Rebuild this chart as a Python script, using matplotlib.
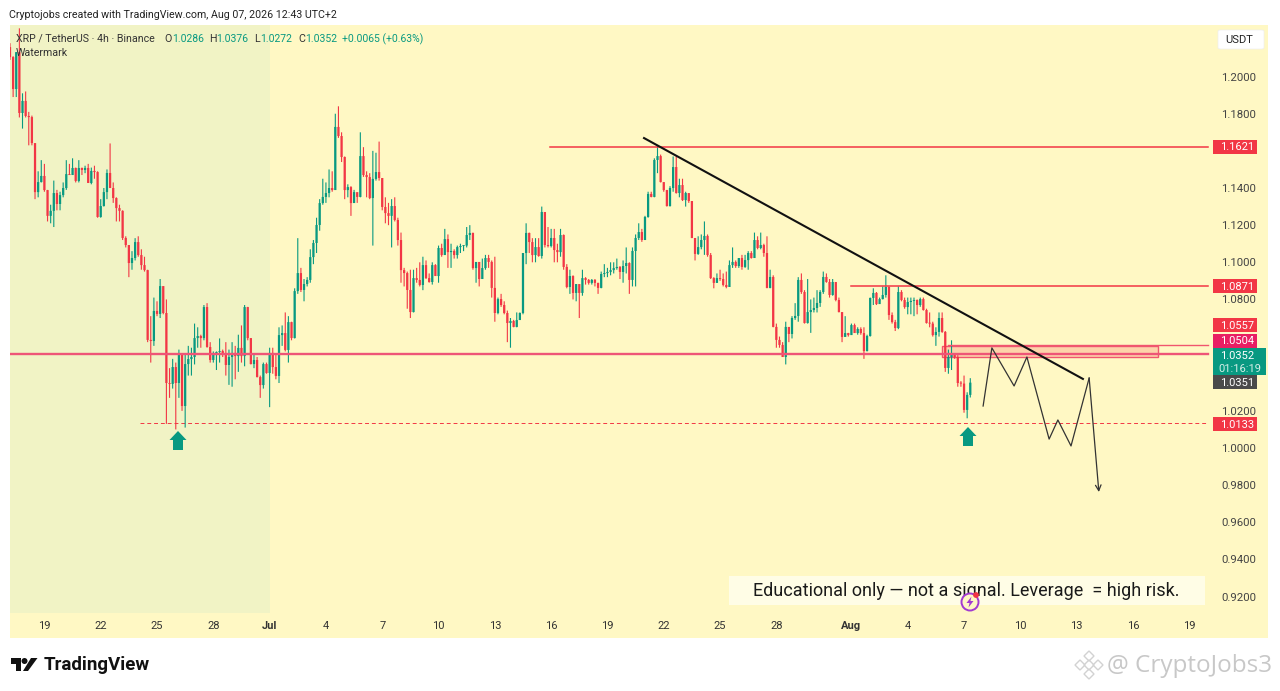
#!/usr/bin/env python
"""XRP / USDT 4h candle chart with hand drawn levels, trendline and projection."""
import matplotlib
matplotlib.use("agg")
import matplotlib.pyplot as plt
from matplotlib.patches import Ellipse, FancyBboxPatch, Polygon, Rectangle

plt.rcParams["font.family"] = ["Roboto", "DejaVu Sans"]

W, H = 1280, 691
UP, DOWN, PINK = "#089981", "#f23645", "#e91e63"
YELLOW, SHADE = "#fff8c4", "#f1f3c5"

first_open = 1.2159
closes = [
    1.2105, 1.1933, 1.2132, 1.1804, 1.1869, 1.1788, 1.1782, 1.1642, 1.1378, 1.1432,
    1.1465, 1.1389, 1.1250, 1.1277, 1.1373, 1.1314, 1.1362, 1.1400, 1.1475, 1.1470,
    1.1508, 1.1438, 1.1508, 1.1497, 1.1508, 1.1427, 1.1492, 1.1486, 1.1244, 1.1303,
    1.1378, 1.1481, 1.1400, 1.1346, 1.1292, 1.1277, 1.1131, 1.1093, 1.0996, 1.1023,
    1.1109, 1.1039, 1.0985, 1.0958, 1.0582, 1.0576, 1.0738, 1.0722, 1.0872, 1.0727,
    1.0350, 1.0345, 1.0436, 1.0350, 1.0506, 1.0226, 1.0452, 1.0479, 1.0490, 1.0592,
    1.0603, 1.0592, 1.0759, 1.0544, 1.0474, 1.0501, 1.0517, 1.0522, 1.0501, 1.0447,
    1.0490, 1.0512, 1.0495, 1.0539, 1.0495, 1.0759, 1.0592, 1.0452, 1.0474, 1.0382,
    1.0339, 1.0452, 1.0404, 1.0512, 1.0436, 1.0388, 1.0608, 1.0619, 1.0528, 1.0678,
    1.0592, 1.0845, 1.0942, 1.0851, 1.0883, 1.0905, 1.1028, 1.1104, 1.1201, 1.1319,
    1.1352, 1.1373, 1.1400, 1.1389, 1.1729, 1.1680, 1.1567, 1.1389, 1.1405, 1.1319,
    1.1378, 1.1352, 1.1572, 1.1470, 1.1459, 1.1346, 1.1449, 1.1486, 1.1454, 1.1298,
    1.1265, 1.1250, 1.1303, 1.1228, 1.1120, 1.0958, 1.0942, 1.0851, 1.0732, 1.0915,
    1.0905, 1.0878, 1.0985, 1.0915, 1.0894, 1.0985, 1.0926, 1.1077, 1.1039, 1.1125,
    1.1055, 1.1061, 1.1039, 1.1082, 1.1088, 1.1090, 1.1147, 1.1158, 1.0969, 1.1002,
    1.0910, 1.0969, 1.1023, 1.1002, 1.0862, 1.0727, 1.0802, 1.0770, 1.0727, 1.0673,
    1.0684, 1.0652, 1.0689, 1.0727, 1.1050, 1.1158, 1.1109, 1.1039, 1.1082, 1.1034,
    1.1271, 1.1093, 1.1088, 1.1131, 1.1066, 1.1055, 1.1147, 1.0975, 1.0867, 1.0926,
    1.0835, 1.0883, 1.0835, 1.0915, 1.0905, 1.0889, 1.0905, 1.0889, 1.0862, 1.0937,
    1.0942, 1.0948, 1.0958, 1.0969, 1.0975, 1.0948, 1.0980, 1.0996, 1.0905, 1.1061,
    1.1131, 1.1163, 1.1120, 1.1244, 1.1368, 1.1352, 1.1551, 1.1572, 1.1432, 1.1389,
    1.1303, 1.1400, 1.1513, 1.1373, 1.1416, 1.1335, 1.1373, 1.1330, 1.1131, 1.1045,
    1.1082, 1.1120, 1.1142, 1.1039, 1.0915, 1.0889, 1.0915, 1.0910, 1.0878, 1.0867,
    1.0985, 1.1002, 1.0980, 1.1023, 1.0975, 1.1012, 1.1050, 1.1023, 1.1120, 1.1077,
    1.1093, 1.1050, 1.0862, 1.0921, 1.0652, 1.0582, 1.0555, 1.0490, 1.0652, 1.0614,
    1.0700, 1.0711, 1.0905, 1.0840, 1.0673, 1.0732, 1.0743, 1.0754, 1.0781, 1.0840,
    1.0921, 1.0894, 1.0824, 1.0894, 1.0797, 1.0732, 1.0598, 1.0619, 1.0608, 1.0662,
    1.0619, 1.0641, 1.0619, 1.0522, 1.0603, 1.0808, 1.0835, 1.0775, 1.0802, 1.0824,
    1.0867, 1.0716, 1.0678, 1.0646, 1.0840, 1.0797, 1.0759, 1.0786, 1.0792, 1.0797,
    1.0770, 1.0802, 1.0743, 1.0673, 1.0670, 1.0608, 1.0625, 1.0700, 1.0625, 1.0431,
    1.0490, 1.0501, 1.0490, 1.0350, 1.0347, 1.0205, 1.0286, 1.0352,
]
highs = [
    1.218, 1.211, 1.213, 1.226, 1.191, 1.192, 1.181, 1.179, 1.164, 1.149,
    1.155, 1.153, 1.139, 1.131, 1.144, 1.139, 1.138, 1.143, 1.155, 1.153,
    1.156, 1.151, 1.155, 1.151, 1.152, 1.153, 1.151, 1.152, 1.149, 1.134,
    1.140, 1.150, 1.164, 1.143, 1.135, 1.131, 1.128, 1.114, 1.109, 1.106,
    1.113, 1.114, 1.107, 1.103, 1.096, 1.071, 1.081, 1.079, 1.091, 1.087,
    1.080, 1.043, 1.048, 1.046, 1.053, 1.051, 1.051, 1.055, 1.054, 1.067,
    1.065, 1.061, 1.077, 1.078, 1.057, 1.052, 1.052, 1.059, 1.053, 1.057,
    1.053, 1.057, 1.055, 1.061, 1.066, 1.077, 1.076, 1.059, 1.051, 1.049,
    1.039, 1.046, 1.046, 1.054, 1.054, 1.051, 1.065, 1.066, 1.073, 1.071,
    1.068, 1.086, 1.113, 1.097, 1.091, 1.092, 1.107, 1.112, 1.124, 1.134,
    1.145, 1.143, 1.150, 1.149, 1.180, 1.184, 1.170, 1.157, 1.142, 1.141,
    1.139, 1.137, 1.170, 1.162, 1.149, 1.148, 1.160, 1.159, 1.165, 1.145,
    1.135, 1.132, 1.134, 1.135, 1.124, 1.116, 1.097, 1.095, 1.096, 1.096,
    1.097, 1.100, 1.103, 1.101, 1.094, 1.100, 1.099, 1.109, 1.110, 1.118,
    1.115, 1.110, 1.107, 1.109, 1.110, 1.109, 1.119, 1.120, 1.116, 1.100,
    1.100, 1.102, 1.104, 1.104, 1.101, 1.103, 1.081, 1.083, 1.079, 1.074,
    1.070, 1.069, 1.073, 1.073, 1.105, 1.121, 1.116, 1.113, 1.113, 1.113,
    1.130, 1.127, 1.119, 1.118, 1.118, 1.110, 1.118, 1.115, 1.099, 1.096,
    1.093, 1.088, 1.086, 1.096, 1.092, 1.091, 1.091, 1.091, 1.089, 1.095,
    1.099, 1.097, 1.100, 1.100, 1.102, 1.098, 1.101, 1.108, 1.100, 1.108,
    1.115, 1.121, 1.118, 1.125, 1.138, 1.138, 1.156, 1.163, 1.158, 1.143,
    1.139, 1.141, 1.157, 1.157, 1.145, 1.145, 1.138, 1.137, 1.133, 1.113,
    1.114, 1.115, 1.122, 1.115, 1.105, 1.092, 1.094, 1.096, 1.094, 1.095,
    1.101, 1.108, 1.101, 1.102, 1.104, 1.104, 1.106, 1.106, 1.116, 1.114,
    1.116, 1.110, 1.114, 1.096, 1.093, 1.067, 1.060, 1.057, 1.068, 1.065,
    1.071, 1.078, 1.092, 1.094, 1.085, 1.091, 1.080, 1.081, 1.085, 1.085,
    1.095, 1.094, 1.091, 1.091, 1.089, 1.081, 1.073, 1.071, 1.062, 1.067,
    1.067, 1.065, 1.065, 1.065, 1.061, 1.081, 1.086, 1.084, 1.081, 1.087,
    1.093, 1.087, 1.073, 1.069, 1.087, 1.085, 1.081, 1.081, 1.081, 1.081,
    1.080, 1.081, 1.081, 1.075, 1.073, 1.068, 1.065, 1.073, 1.073, 1.063,
    1.053, 1.058, 1.050, 1.050, 1.036, 1.039, 1.030, 1.0376,
]
lows = [
    1.209, 1.189, 1.189, 1.178, 1.172, 1.178, 1.163, 1.163, 1.134, 1.135,
    1.143, 1.138, 1.122, 1.121, 1.119, 1.128, 1.128, 1.135, 1.139, 1.147,
    1.147, 1.143, 1.143, 1.147, 1.148, 1.143, 1.142, 1.145, 1.124, 1.124,
    1.130, 1.134, 1.140, 1.132, 1.122, 1.122, 1.112, 1.108, 1.092, 1.096,
    1.101, 1.103, 1.096, 1.095, 1.057, 1.046, 1.055, 1.071, 1.070, 1.072,
    1.013, 1.027, 1.032, 1.010, 1.027, 1.020, 1.011, 1.039, 1.039, 1.045,
    1.054, 1.054, 1.058, 1.054, 1.046, 1.046, 1.042, 1.046, 1.049, 1.039,
    1.034, 1.033, 1.037, 1.041, 1.046, 1.044, 1.058, 1.045, 1.043, 1.038,
    1.027, 1.032, 1.040, 1.022, 1.040, 1.037, 1.035, 1.055, 1.052, 1.046,
    1.058, 1.059, 1.083, 1.084, 1.079, 1.087, 1.089, 1.099, 1.105, 1.117,
    1.131, 1.132, 1.135, 1.138, 1.139, 1.167, 1.154, 1.134, 1.135, 1.125,
    1.132, 1.132, 1.135, 1.146, 1.135, 1.134, 1.109, 1.144, 1.144, 1.128,
    1.121, 1.120, 1.108, 1.122, 1.109, 1.089, 1.087, 1.075, 1.070, 1.073,
    1.089, 1.087, 1.085, 1.091, 1.089, 1.088, 1.093, 1.089, 1.103, 1.104,
    1.097, 1.097, 1.102, 1.102, 1.105, 1.106, 1.108, 1.112, 1.096, 1.089,
    1.087, 1.091, 1.096, 1.097, 1.081, 1.068, 1.072, 1.076, 1.072, 1.057,
    1.054, 1.065, 1.065, 1.069, 1.072, 1.099, 1.105, 1.100, 1.100, 1.103,
    1.102, 1.108, 1.108, 1.108, 1.100, 1.100, 1.103, 1.096, 1.086, 1.083,
    1.080, 1.079, 1.070, 1.082, 1.088, 1.088, 1.088, 1.087, 1.083, 1.086,
    1.092, 1.092, 1.093, 1.094, 1.096, 1.091, 1.089, 1.094, 1.083, 1.087,
    1.087, 1.112, 1.111, 1.112, 1.124, 1.135, 1.135, 1.148, 1.143, 1.138,
    1.130, 1.130, 1.138, 1.137, 1.135, 1.133, 1.130, 1.132, 1.113, 1.101,
    1.104, 1.107, 1.104, 1.103, 1.091, 1.086, 1.089, 1.090, 1.087, 1.086,
    1.089, 1.097, 1.097, 1.097, 1.096, 1.097, 1.096, 1.102, 1.104, 1.107,
    1.107, 1.103, 1.086, 1.086, 1.065, 1.054, 1.054, 1.049, 1.045, 1.057,
    1.059, 1.069, 1.068, 1.083, 1.067, 1.067, 1.062, 1.073, 1.073, 1.076,
    1.083, 1.089, 1.081, 1.082, 1.079, 1.073, 1.057, 1.060, 1.060, 1.061,
    1.062, 1.061, 1.061, 1.048, 1.052, 1.060, 1.077, 1.077, 1.079, 1.080,
    1.081, 1.069, 1.067, 1.063, 1.064, 1.079, 1.075, 1.072, 1.072, 1.071,
    1.072, 1.076, 1.074, 1.067, 1.065, 1.060, 1.055, 1.060, 1.062, 1.041,
    1.040, 1.042, 1.048, 1.033, 1.033, 1.019, 1.016, 1.0272,
]
opens = [first_open] + closes[:-1]

# x axis: bar number of each labelled day, 6 bars a day
day_offsets = [0, 3, 6, 9, 12, 15, 18, 21, 24, 27, 30, 33, 36, 39, 43, 46, 49, 52, 55, 58, 61]
day_labels = ["19", "22", "25", "28", "Jul", "4", "7", "10", "13", "16", "19",
              "22", "25", "28", "Aug", "4", "7", "10", "13", "16", "19"]
first_day_bar = 11
price_ticks = [1.20, 1.18, 1.14, 1.12, 1.10, 1.08, 1.02, 1.00, 0.98, 0.96, 0.94, 0.92]

# drawn objects
level_high, level_mid, level_zone_top, level_zone_line, level_low = 1.1621, 1.0871, 1.0557, 1.0504, 1.0133
zone_bars, zone_prices = (298.0, 367.0), (1.0490, 1.0550)
trend_bars, trend_prices = [202.7, 343.0], [1.1669, 1.0372]
path_bars = [311.1, 313.9, 321.0, 325.1, 332.2, 335.0, 339.2, 345.0, 348.1]
path_prices = [1.0226, 1.0539, 1.0334, 1.0490, 1.0048, 1.0151, 1.0011, 1.0377, 0.9763]


def px(x, y):
    return x / W, 1 - y / H


def rect(x0, y0, x1, y1, **kw):
    fig.add_artist(Rectangle(px(x0, y1), (x1 - x0) / W, (y1 - y0) / H,
                             transform=fig.transFigure, **kw))


def poly(pts, **kw):
    fig.add_artist(Polygon([px(*p) for p in pts], closed=True, transform=fig.transFigure, **kw))


def disc(x, y, r, **kw):
    fig.add_artist(Ellipse(px(x, y), 2 * r / W, 2 * r / H, transform=fig.transFigure, **kw))


def label(x, y, s, **kw):
    # matplotlib centres slightly high for this font
    fig.text(*px(x, y + 0.8), s, va="center", **kw)


def flag(y, text, color, x1=1257, h=14):
    rect(1213, y - h / 2, x1, y + h / 2, color=color, lw=0, zorder=6)
    label(1237, y, text, color="white", fontsize=8, ha="center", zorder=7)


def up_arrow(x, tip):
    pts = [(x, tip), (x + 8.5, tip + 9), (x + 5, tip + 9), (x + 5, tip + 19),
           (x - 5, tip + 19), (x - 5, tip + 9), (x - 8.5, tip + 9)]
    poly(pts, color=UP, lw=0, zorder=5)


fig = plt.figure(figsize=(W / 100, H / 100), dpi=100, facecolor="white")
rect(10, 25, 1268, 638, color=YELLOW, lw=0, zorder=0)
rect(10, 25, 270, 613, color=SHADE, lw=0, zorder=0)

ax = fig.add_axes([10 / W, 1 - 613 / H, 1200 / W, 588 / H])
ax.patch.set_alpha(0)
ax.set_xlim(0, 1200 / 3.128)
ax.set_ylim(1 - 165 / 1857, 1 + 423 / 1857)
for s in ax.spines.values():
    s.set_visible(False)

# candles, unsnapped so they keep the soft look of the screenshot
bars = range(len(closes))
colors = [UP if c >= o else DOWN for o, c in zip(opens, closes)]
wicks = ax.vlines(bars, lows, highs, colors=colors, lw=0.8, zorder=3)
wicks.set_snap(False)
bottoms = [min(o, c) for o, c in zip(opens, closes)]
heights = [max(abs(c - o), 0.0005) for o, c in zip(opens, closes)]
for p in ax.bar(bars, heights, bottom=bottoms, width=0.72, color=colors, lw=0, zorder=3):
    p.set_snap(False)

# levels and zone
ax.plot([172.6, 383], [level_high] * 2, color=DOWN, lw=1.1, zorder=4)
ax.plot([268.9, 383], [level_mid] * 2, color=DOWN, lw=1.1, zorder=4)
ax.plot([0, 383], [level_zone_line] * 2, color="#ee5577", lw=1.7, zorder=4)
ax.plot([300, 383], [level_zone_top] * 2, color="#f0566f", lw=1.0, zorder=4)
ax.plot([41.5, 383], [level_low] * 2, color=DOWN, lw=0.7, ls=(0, (4, 3)), zorder=2)
ax.add_patch(Rectangle((zone_bars[0], zone_prices[0]), zone_bars[1] - zone_bars[0],
                       zone_prices[1] - zone_prices[0], facecolor="#fdd3aa",
                       edgecolor="#f0566f", lw=1.0, zorder=2))

# trendline and projected path
ax.plot(trend_bars, trend_prices, color="#111111", lw=1.5, zorder=5)
ax.plot(path_bars[:-1], path_prices[:-1], color="#333333", lw=0.9, zorder=5)
ax.annotate("", xy=(path_bars[-1], path_prices[-1]), xytext=(path_bars[-2], path_prices[-2]),
            arrowprops=dict(arrowstyle="->", color="#333333", lw=0.9, shrinkA=0, shrinkB=0,
                            mutation_scale=10), zorder=5)

# axes text
ax.yaxis.tick_right()
ax.set_yticks(price_ticks)
ax.set_yticklabels(["%.4f" % t for t in price_ticks], fontsize=8.2, color="#444444")
ax.tick_params(axis="y", length=0, pad=8)
ax.set_xticks([])
for d, lab in zip(day_offsets, day_labels):
    bold = lab in ("Jul", "Aug")
    label(10 + 3.128 * (first_day_bar + 6 * d), 625, lab, fontsize=8, color="#333333",
          ha="center", fontweight="bold" if bold else "normal")

# price flags, stacked as the platform does it
flag(146.5, "1.1621", DOWN)
flag(286, "1.0871", DOWN)
flag(325, "1.0557", DOWN)
flag(340.5, "1.0504", PINK)
rect(1213, 348, 1266, 375, color=UP, lw=0, zorder=6)
label(1237, 355, "1.0352", color="white", fontsize=8, ha="center", zorder=7)
label(1240, 368, "01:16:19", color="#d6efe8", fontsize=8, ha="center", zorder=7)
flag(382, "1.0351", "#4a4a4a")
flag(424, "1.0133", DOWN)

up_arrow(178, 431)
up_arrow(968, 427)

# note and alert icon
rect(729, 576, 1205, 605, color="#fffde6", lw=0, zorder=5)
label(966, 590, "Educational only \u2014 not a signal. Leverage  = high risk.", fontsize=13,
      color="#1a1a1a", ha="center", zorder=6)
disc(970, 602, 8.5, facecolor=YELLOW, edgecolor="#a23bd1", lw=1.4, zorder=7)
poly([(971.5, 596.5), (966.5, 603), (969.5, 603), (968.5, 607.5), (973.5, 601), (970.5, 601)],
     color="#a23bd1", lw=0, zorder=8)
disc(976, 595, 2.2, color=DOWN, zorder=9)

# header
label(9, 14, "Cryptojobs created with TradingView.com, Aug 07, 2026 12:43 UTC+2",
      fontsize=7.7, color="#222222", ha="left")
label(16, 38, "XRP / TetherUS \u00b7 4h \u00b7 Binance", fontsize=7.7, color="#333333", ha="left")
for x, lab in [(164, "O"), (209, "H"), (254, "L"), (298, "C")]:
    label(x, 38, lab, fontsize=7.7, color="#333333", ha="left")
for x, lab in [(172, "1.0286"), (216, "1.0376"), (260, "1.0272"), (305, "1.0352"), (342, "+0.0065 (+0.63%)")]:
    label(x, 38, lab, fontsize=7.5, color=UP, ha="left")
label(16, 52, "Watermark", fontsize=7.7, color="#333333", ha="left")

# currency button
fig.add_artist(FancyBboxPatch(px(1218, 49), 46 / W, 19 / H, boxstyle="round,pad=0,rounding_size=0.002",
                              transform=fig.transFigure, facecolor="white", edgecolor="#eeeeee", lw=0.5))
label(1239, 39, "USDT", fontsize=8, color="#222222", ha="center")

# footer logo and wordmark
poly([(11, 658), (21, 658), (21, 671), (16, 671), (16, 664), (11, 664)], color="#111111", lw=0)
disc(24.5, 661, 3, color="#111111", lw=0)
poly([(31, 658), (37.5, 658), (28, 671), (23, 671)], color="#111111", lw=0)
label(44, 664.5, "TradingView", fontsize=13.5, fontweight="bold", color="#111111", ha="left")

# repost watermark
for cx, cy in [(1089, 656), (1080, 665), (1098, 665), (1089, 665), (1089, 674)]:
    poly([(cx, cy - 5), (cx + 5, cy), (cx, cy + 5), (cx - 5, cy)], facecolor="none",
         edgecolor="#d2d2d2", lw=1.0)
fig.text(*px(1272, 665.5), "@ CryptoJobs3", fontsize=17.5, color="#c8c8c8", ha="right", va="center",
         family=["Open Sans", "DejaVu Sans"])

fig.savefig("out.png", dpi=100)
